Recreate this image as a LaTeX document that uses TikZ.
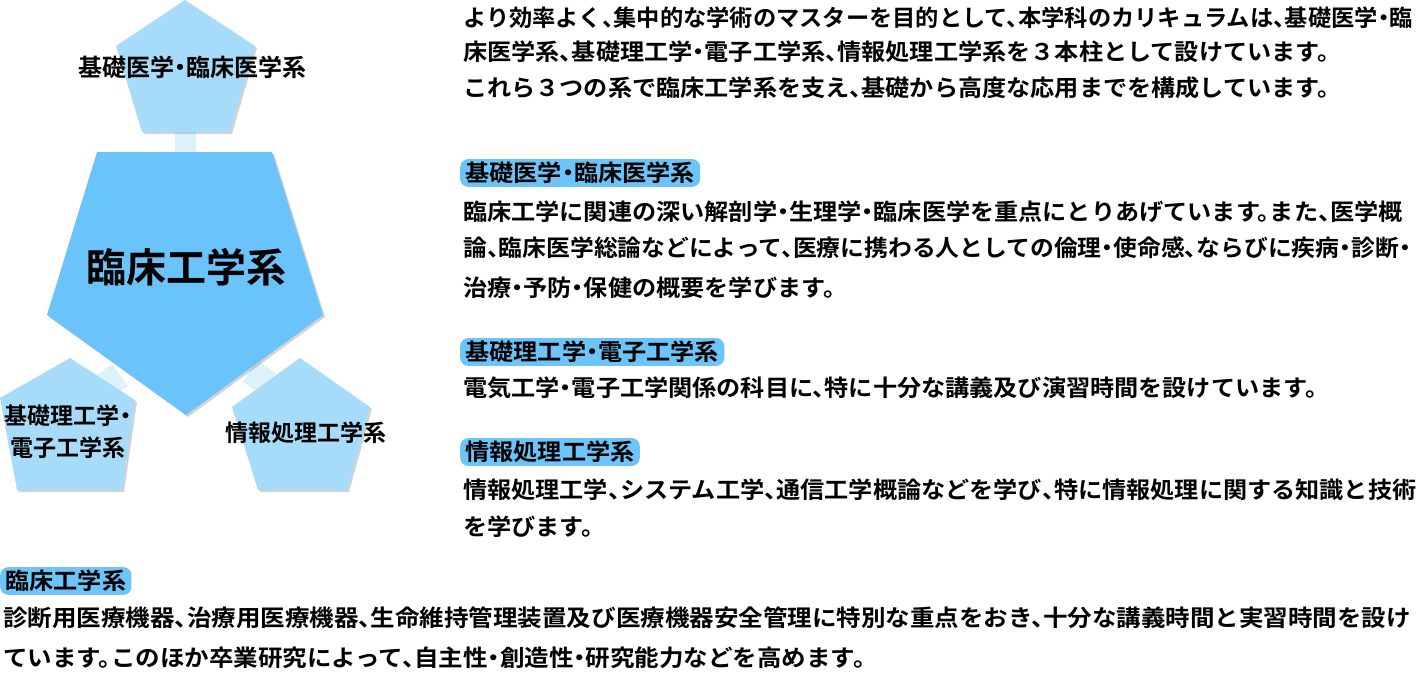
\documentclass[tikz,border=0pt]{standalone}
\usepackage{fontspec}
\setmainfont[RawFeature=+halt]{Noto Sans CJK JP Bold}
\usetikzlibrary{shadows}
\definecolor{cmain}{HTML}{6AC4FB}
\definecolor{csub}{HTML}{A6DCFA}
\definecolor{clink}{HTML}{DDF2FD}
\definecolor{cpill}{HTML}{6CC4F9}
\tikzset{
 pent/.style={fill=csub, drop shadow={shadow xshift=2pt,shadow yshift=-2pt,opacity=0.35}},
 linkbar/.style={fill=clink},
 body/.style={anchor=west, inner sep=0pt, xscale=1.05, transform shape, font=\fontsize{23}{26}\selectfont},
 pill/.style={anchor=west, fill=cpill, rounded corners=8pt, inner xsep=5pt, inner ysep=3pt, xscale=1.05, transform shape, font=\fontsize{23}{26}\selectfont},
 lab/.style={font=\fontsize{24}{27}\selectfont, align=center, inner sep=0pt},
}
\begin{document}
\begin{tikzpicture}[x=1pt,y=-1pt]
\useasboundingbox (0,0) rectangle (1420,673);
% connectors
\fill[linkbar] (175,125) rectangle (196,158);
\fill[linkbar] (93,378) -- (112,364) -- (128,386) -- (109,400) -- cycle;
\fill[linkbar] (257,360) -- (276,373) -- (262,395) -- (243,382) -- cycle;
% pentagons
\path[pent] (185,0) -- (255,46) -- (230,132) -- (142,132) -- (116,46) -- cycle;
\path[pent] (70,358) -- (135,400) -- (122,490) -- (17,490) -- (0,398) -- cycle;
\path[pent] (300,358) -- (370,407) -- (347,490) -- (258,490) -- (232,407) -- cycle;
\path[pent, fill=cmain] (97,152) -- (272,152) -- (323,315) -- (186,415) -- (47,315) -- cycle;
\node[lab] (ta) at (192,67) {基礎医学・臨床医学系};
\node[lab, font=\fontsize{40}{44}\selectfont] (tc) at (186,267) {臨床工学系};
\node[lab, align=center, font=\fontsize{23}{32}\selectfont] (tl) at (68,432) {基礎理工学・\\電子工学系};
\node[lab, font=\fontsize{23}{26}\selectfont] (tr) at (306,433) {情報処理工学系};
% right text
\node[body, xscale=0.962] (l1) at (463,18) {より効率よく、集中的な学術のマスターを目的として、本学科のカリキュラムは、基礎医学・臨};
\node[body] (l2) at (463,52) {床医学系、基礎理工学・電子工学系、情報処理工学系を３本柱として設けています。};
\node[body] (l3) at (463,88) {これら３つの系で臨床工学系を支え、基礎から高度な応用までを構成しています。};
\node[pill] (p1) at (460,173) {基礎医学・臨床医学系};
\node[body] (l4) at (463,212) {臨床工学に関連の深い解剖学・生理学・臨床医学を重点にとりあげています。また、医学概};
\node[body, xscale=0.985] (l5) at (463,248) {論、臨床医学総論などによって、医療に携わる人としての倫理・使命感、ならびに疾病・診断・};
\node[body] (l6) at (463,288) {治療・予防・保健の概要を学びます。};
\node[pill] (p2) at (460,352) {基礎理工学・電子工学系};
\node[body] (l7) at (463,388) {電気工学・電子工学関係の科目に、特に十分な講義及び演習時間を設けています。};
\node[pill] (p3) at (460,452) {情報処理工学系};
\node[body] (l8) at (463,490) {情報処理工学、システム工学、通信工学概論などを学び、特に情報処理に関する知識と技術};
\node[body] (l9) at (463,527) {を学びます。};
\node[pill] (p4) at (0,581) {臨床工学系};
\node[body, xscale=1.015] (l10) at (3,618) {診断用医療機器、治療用医療機器、生命維持管理装置及び医療機器安全管理に特別な重点をおき、十分な講義時間と実習時間を設け};
\node[body, xscale=1.015] (l11) at (3,658) {ています。このほか卒業研究によって、自主性・創造性・研究能力などを高めます。};
\end{tikzpicture}
\end{document}
